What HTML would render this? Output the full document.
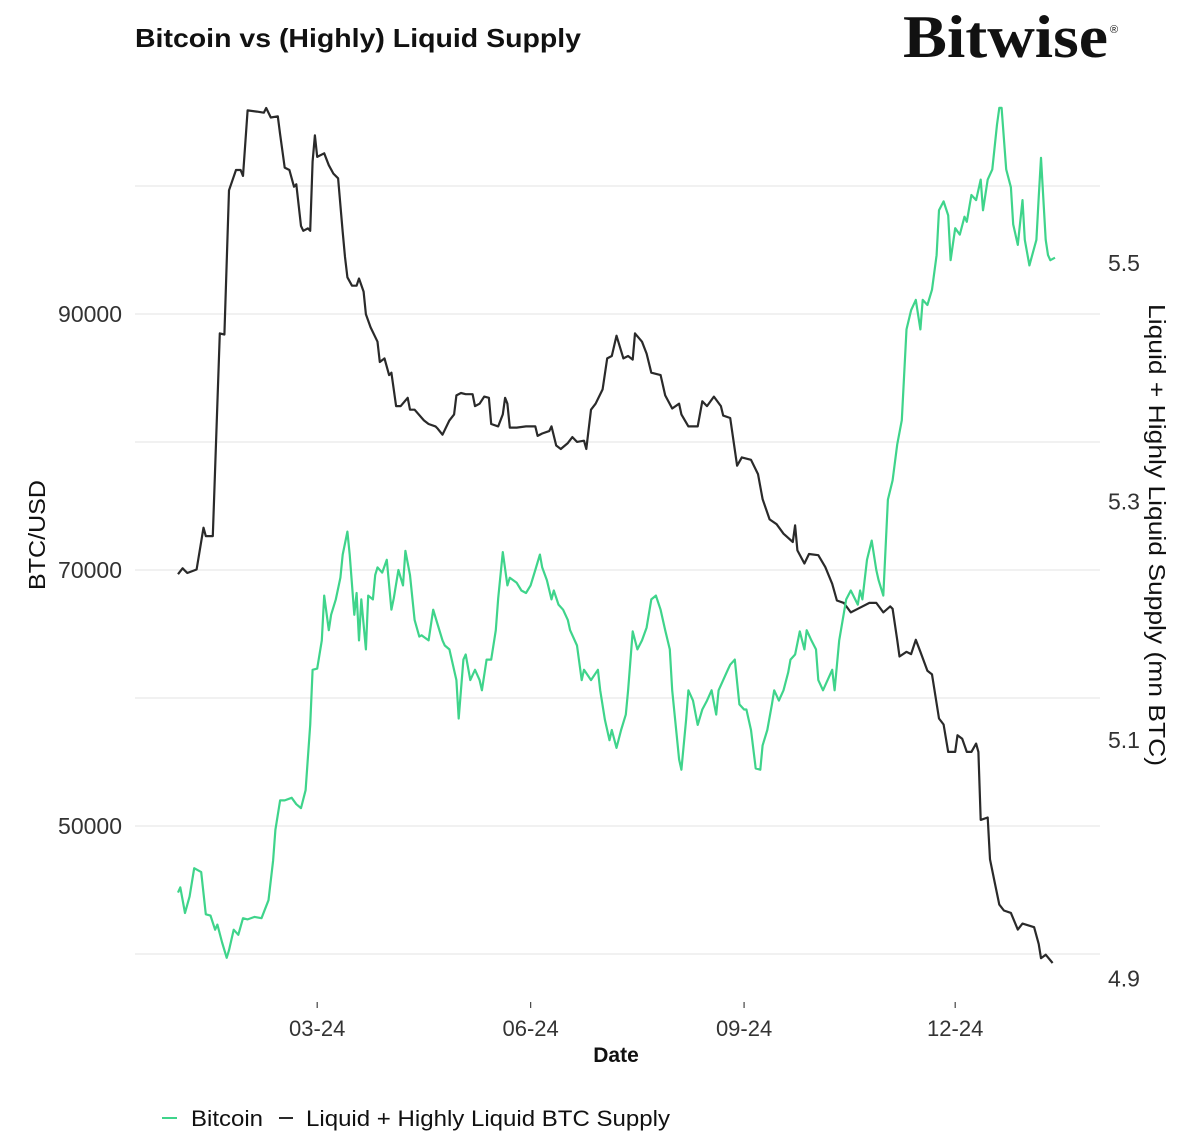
<!DOCTYPE html>
<html><head><meta charset="utf-8"><style>
html,body{margin:0;padding:0;background:#fff;}
svg{display:block;font-family:"Liberation Sans",sans-serif;}
</style></head><body>
<svg id="chart" width="1200" height="1146" viewBox="0 0 1200 1146" xmlns="http://www.w3.org/2000/svg">
<text x="135" y="47" font-size="26" font-weight="bold" fill="#111" textLength="446" lengthAdjust="spacingAndGlyphs">Bitcoin vs (Highly) Liquid Supply</text>
<g>
<text x="903" y="57" font-family="'Liberation Serif',serif" font-weight="bold" font-size="60" textLength="205" lengthAdjust="spacingAndGlyphs" fill="#111">Bitwise</text>
<text x="1110" y="33" font-size="11" fill="#111">®</text>
</g>
<g id="grid"></g>
<g id="lticks"></g>
<g id="rticks"></g>
<g id="xticks"></g>
<text transform="translate(45,535) rotate(-90)" text-anchor="middle" font-size="23" fill="#111" textLength="110" lengthAdjust="spacingAndGlyphs">BTC/USD</text>
<text transform="translate(1149,535) rotate(90)" text-anchor="middle" font-size="23" fill="#111" textLength="462" lengthAdjust="spacingAndGlyphs">Liquid + Highly Liquid Supply (mn BTC)</text>
<text x="616" y="1062" text-anchor="middle" font-size="21" font-weight="bold" fill="#111">Date</text>
<g id="series"></g>
<g>
<g>
<line x1="162" y1="1118" x2="177" y2="1118" stroke="#3fd48b" stroke-width="2"/>
<text x="191" y="1126" font-size="22" fill="#111" textLength="72" lengthAdjust="spacingAndGlyphs">Bitcoin</text></g>
<g>
<line x1="279" y1="1118" x2="293" y2="1118" stroke="#2a2a2a" stroke-width="2"/>
<text x="306" y="1126" font-size="22" fill="#111" textLength="364" lengthAdjust="spacingAndGlyphs">Liquid + Highly Liquid BTC Supply</text></g>
</g>
</svg>
<script>
const btcDays=[0,1,3,5,7,10,12,14,16,17,19,21,22,24,26,28,30,33,36,39,41,42,44,46,49,51,53,55,57,58,60,62,63,65,66,68,70,71,73,74,76,77,78,79,81,82,84,85,86,88,90,92,93,95,97,98,100,102,104,105,108,110,112,114,115,117,120,121,123,124,126,128,130,131,133,135,137,138,140,142,143,146,148,150,152,154,156,157,159,161,162,164,166,168,169,172,174,175,178,181,182,184,186,187,189,191,193,194,196,198,200,202,204,206,208,210,212,213,216,217,219,220,222,224,226,228,230,232,233,235,237,238,240,242,244,245,247,249,251,252,254,256,257,259,261,263,264,266,268,270,271,273,275,276,278,280,282,283,285,288,290,293,294,295,297,299,301,302,304,306,308,310,312,314,316,318,320,321,323,325,327,328,330,332,333,335,337,339,340,342,344,346,347,349,351,353,354,355,357,359,360,362,364,365,367,370,371,372,374,375,376,378];
const btcPrice=[44.8,45.2,43.2,44.5,46.7,46.4,43.1,43.0,41.9,42.3,40.9,39.7,40.3,41.9,41.5,42.8,42.7,42.9,42.8,44.2,47.3,49.7,52.0,52.0,52.2,51.7,51.4,52.8,57.9,62.2,62.3,64.5,68.0,65.3,66.5,67.7,69.4,71.2,73.0,71.2,66.5,68.2,64.5,67.7,63.8,68.0,67.7,69.6,70.2,69.8,70.8,66.9,67.8,70.0,68.8,71.5,69.6,66.1,64.8,64.9,64.5,66.9,65.7,64.5,64.1,63.8,61.4,58.4,63.0,63.4,61.4,62.2,61.4,60.6,63.0,63.0,65.3,67.8,71.4,68.8,69.4,69.0,68.4,68.2,68.8,70.0,71.2,70.2,69.2,67.7,68.4,67.3,66.9,66.1,65.3,64.1,61.4,62.2,61.4,62.2,60.6,58.3,56.7,57.5,56.1,57.5,58.7,60.6,65.2,63.8,64.5,65.5,67.7,68.0,66.9,65.3,63.8,60.6,55.2,54.4,58.3,60.6,59.8,57.9,59.1,59.8,60.6,58.7,60.6,61.4,62.2,62.6,63.0,59.5,59.1,59.1,57.5,54.5,54.4,56.3,57.5,59.5,60.6,59.8,60.6,62.0,63.0,63.4,65.2,63.8,65.3,64.5,63.8,61.4,60.6,61.4,62.2,60.6,64.5,67.7,68.4,67.3,68.4,67.7,70.8,72.3,70.0,69.2,68.0,75.5,77.0,79.8,81.7,88.8,90.3,91.1,88.8,91.1,90.7,91.9,94.6,98.1,98.8,97.7,94.2,96.7,96.2,97.6,97.2,99.3,98.9,100.5,98.1,100.5,101.3,104.8,106.1,106.1,101.3,99.9,97.0,95.4,98.9,95.8,93.8,95.8,99.1,102.2,95.8,94.6,94.2,94.4];
const supDays=[0,2,4,8,11,12,15,18,20,22,25,27,28,30,34,37,38,40,43,44,45,46,48,50,51,53,54,56,57,58,59,60,63,65,67,69,71,72,73,75,77,78,80,81,83,86,87,89,91,92,94,96,99,100,102,106,108,111,112,114,117,119,120,122,124,127,128,130,132,134,135,138,140,141,142,143,146,150,154,155,157,160,161,163,165,168,170,172,175,176,178,180,183,185,187,189,192,194,196,197,200,202,204,208,210,213,216,217,220,224,226,228,231,234,235,238,241,243,247,250,252,255,258,261,265,266,267,270,272,276,279,282,284,287,290,293,298,301,304,307,308,310,311,314,316,318,320,323,325,328,330,332,335,336,338,340,342,344,345,346,349,350,352,354,356,359,362,364,369,371,372,374,377];
const supply=[5.239,5.244,5.240,5.243,5.278,5.271,5.271,5.441,5.440,5.561,5.578,5.578,5.573,5.628,5.627,5.626,5.630,5.622,5.623,5.608,5.594,5.580,5.578,5.564,5.566,5.531,5.527,5.529,5.527,5.585,5.607,5.589,5.592,5.582,5.575,5.571,5.526,5.505,5.488,5.481,5.481,5.487,5.476,5.457,5.446,5.434,5.417,5.420,5.406,5.408,5.380,5.380,5.387,5.377,5.377,5.368,5.365,5.363,5.361,5.356,5.368,5.373,5.389,5.391,5.390,5.390,5.380,5.382,5.388,5.387,5.365,5.363,5.373,5.387,5.382,5.362,5.362,5.363,5.363,5.355,5.357,5.359,5.363,5.347,5.344,5.349,5.354,5.350,5.351,5.344,5.377,5.382,5.394,5.420,5.422,5.439,5.420,5.422,5.419,5.441,5.434,5.424,5.408,5.406,5.389,5.378,5.382,5.373,5.363,5.363,5.384,5.380,5.388,5.380,5.372,5.370,5.330,5.337,5.335,5.323,5.302,5.285,5.281,5.273,5.266,5.280,5.259,5.248,5.256,5.255,5.245,5.231,5.217,5.215,5.207,5.210,5.215,5.215,5.207,5.212,5.210,5.184,5.170,5.174,5.172,5.184,5.174,5.158,5.155,5.118,5.113,5.090,5.090,5.104,5.101,5.090,5.090,5.097,5.090,5.033,5.035,5.000,4.981,4.962,4.957,4.955,4.941,4.946,4.943,4.929,4.917,4.920,4.913];
const leftTicks=[50000,70000,90000];
const leftGrid=[40000,50000,60000,70000,80000,90000,100000];
const rightTicks=[4.9,5.1,5.3,5.5];
const xTickDays=[60,152,244,335];
const xTickLabels=["03-24","06-24","09-24","12-24"];

const NS="http://www.w3.org/2000/svg";
function X(d){return 178+d*2.32;}
function YL(p){return 314-(p-90000)*0.0128;}
function YR(v){return 263-(v-5.5)*1192.5;}
function mk(tag,attrs,parent){const e=document.createElementNS(NS,tag);for(const k in attrs)e.setAttribute(k,attrs[k]);parent.appendChild(e);return e;}
const grid=document.getElementById('grid');
leftGrid.forEach(p=>{
  const l=mk('line',{x1:135,x2:1100,y1:YL(p),y2:YL(p),stroke:'#e3e3e3','stroke-width':1},grid);
  
  
});
const lt=document.getElementById('lticks');
leftTicks.forEach(p=>{
  const t=mk('text',{x:122,y:YL(p)+8,'text-anchor':'end','font-size':23,fill:'#333'},lt);
  t.textContent=String(p);
  
  
});
const rt=document.getElementById('rticks');
rightTicks.forEach(v=>{
  const t=mk('text',{x:1108,y:YR(v)+8,'font-size':23,fill:'#333'},rt);
  t.textContent=v.toFixed(1);
  
  
});
const xt=document.getElementById('xticks');
xTickDays.forEach((d,i)=>{
  const m=mk('line',{x1:X(d),x2:X(d),y1:1002,y2:1008,stroke:'#444','stroke-width':1.2},xt);
  
  
  const t=mk('text',{x:X(d),y:1036,'text-anchor':'middle','font-size':22,fill:'#333'},xt);
  t.textContent=xTickLabels[i];
  
  
});
const s=document.getElementById('series');
const p1=mk('polyline',{points:supDays.map((d,i)=>X(d).toFixed(1)+','+YR(supply[i]).toFixed(1)).join(' '),fill:'none',stroke:'#2a2a2a','stroke-width':2.2,'stroke-linejoin':'round'},s);


const p2=mk('polyline',{points:btcDays.map((d,i)=>X(d).toFixed(1)+','+YL(btcPrice[i]*1000).toFixed(1)).join(' '),fill:'none',stroke:'#3fd48b','stroke-width':2.2,'stroke-linejoin':'round'},s);


</script>
</body></html>
